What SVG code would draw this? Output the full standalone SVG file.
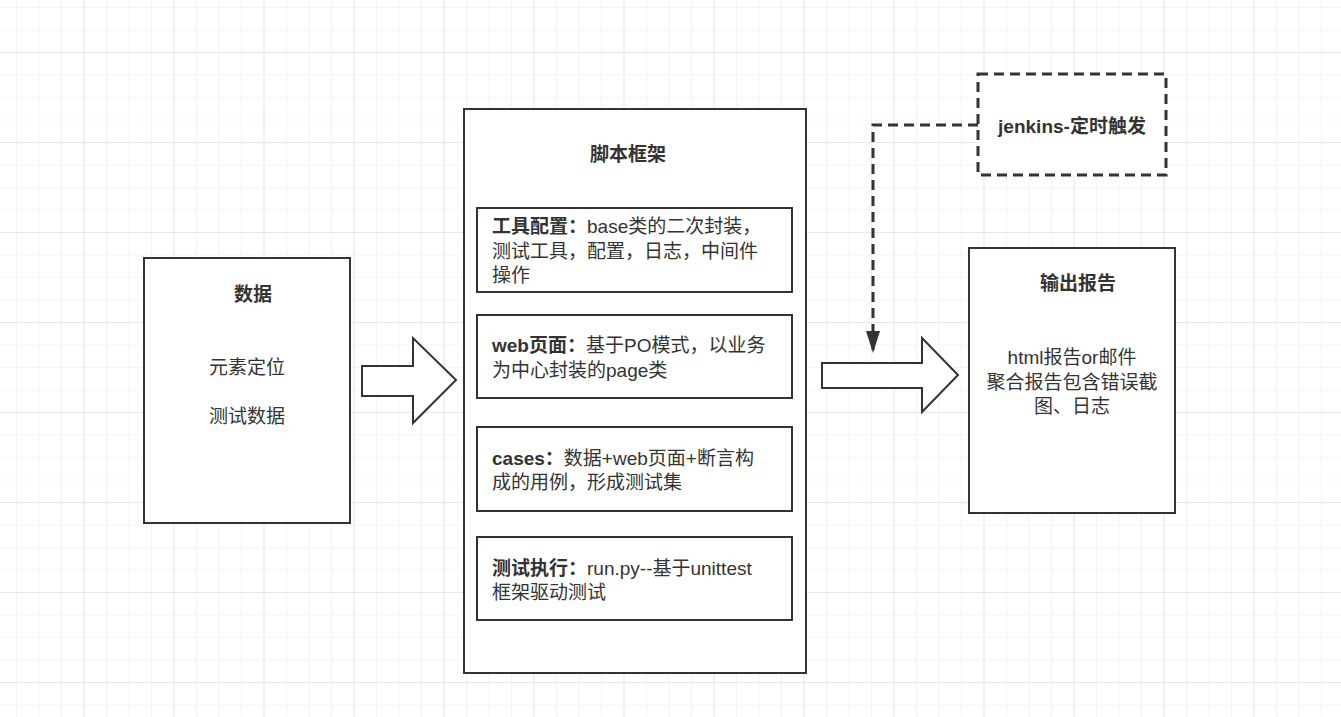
<svg xmlns="http://www.w3.org/2000/svg" width="1341" height="717" viewBox="0 0 1341 717">
<defs>
<pattern id="minor" x="-6.5" y="-38" width="22.5" height="22.5" patternUnits="userSpaceOnUse"><path d="M0 0H22.5M0 0V22.5" fill="none" stroke="#ececec" stroke-width="1.2"/></pattern>
<pattern id="major" x="-6.5" y="-38" width="90" height="90" patternUnits="userSpaceOnUse"><path d="M0 0H90M0 0V90" fill="none" stroke="#e2e2e2" stroke-width="1.4"/></pattern>
<marker id="ah" markerWidth="22" markerHeight="14" refX="22" refY="7" orient="auto" markerUnits="userSpaceOnUse" viewBox="0 0 22 14"><path d="M0 0L22 7L0 14Z" fill="#333"/></marker>
</defs>
<style>
.box{fill:#fff;stroke:#333;stroke-width:2}
.t{font-family:"Liberation Sans","Noto Sans CJK SC",sans-serif;font-size:19px;fill:#333}
.b{font-weight:bold}
.c{text-anchor:middle}
</style>
<rect width="1341" height="717" fill="#fff"/>
<rect width="1341" height="717" fill="url(#minor)"/>
<rect width="1341" height="717" fill="url(#major)"/>
<g id="connectors">
<path d="M362 366H413V338L456 380L413 423V396H362Z" class="box"/>
<path d="M822 363H922V338L958 375L922 412V388H822Z" class="box"/>
<path d="M978 125H873V353" fill="none" stroke="#333" stroke-width="3" stroke-dasharray="10,6" marker-end="url(#ah)"/>
</g>
<g id="data"><rect class="box" x="144" y="258" width="206" height="265"/>
<text class="t b c" x="253" y="301">数据</text>
<text class="t c" x="247" y="374">元素定位</text>
<text class="t c" x="247" y="423">测试数据</text></g>
<g id="framework"><rect class="box" x="464" y="109" width="342" height="564"/>
<text class="t b c" x="628" y="161">脚本框架</text></g>
<g id="tools"><rect class="box" x="477" y="208" width="315" height="84"/>
<text class="t" x="492" y="233"><tspan class="b">工具配置：</tspan>base类的二次封装，</text>
<text class="t" x="492" y="258">测试工具，配置，日志，中间件</text>
<text class="t" x="492" y="282">操作</text></g>
<g id="web"><rect class="box" x="477" y="315" width="315" height="83"/>
<text class="t" x="492" y="352"><tspan class="b">web页面：</tspan>基于PO模式，以业务</text>
<text class="t" x="492" y="377">为中心封装的page类</text></g>
<g id="cases"><rect class="box" x="477" y="427" width="315" height="84"/>
<text class="t" x="492" y="465"><tspan class="b">cases：</tspan>数据+web页面+断言构</text>
<text class="t" x="492" y="489">成的用例，形成测试集</text></g>
<g id="run"><rect class="box" x="477" y="537" width="315" height="83"/>
<text class="t" x="492" y="575"><tspan class="b">测试执行：</tspan>run.py--基于unittest</text>
<text class="t" x="492" y="599">框架驱动测试</text></g>
<g id="jenkins"><rect x="978" y="74" width="188" height="101" fill="#fff" stroke="#333" stroke-width="3" stroke-dasharray="10,6"/>
<text class="t b c" x="1072" y="133">jenkins-定时触发</text></g>
<g id="report"><rect class="box" x="969" y="248" width="206" height="265"/>
<text class="t b c" x="1078" y="290">输出报告</text>
<text class="t c" x="1072" y="364">html报告or邮件</text>
<text class="t c" x="1072" y="389">聚合报告包含错误截</text>
<text class="t c" x="1072" y="413">图、日志</text></g>
</svg>
